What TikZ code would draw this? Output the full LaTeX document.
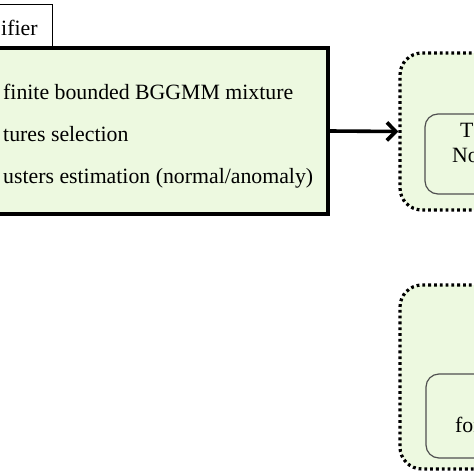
\documentclass[tikz,border=0pt]{standalone}
\usepackage{fontspec}
\setmainfont{Liberation Serif}
\usetikzlibrary{arrows.meta}
\definecolor{boxgreen}{RGB}{237,249,224}
\definecolor{innerline}{RGB}{80,80,80}
\begin{document}
\begin{tikzpicture}[x=1pt,y=-1pt,
  txt/.style={inner sep=0pt,anchor=base west,font=\fontsize{21.8}{26}\selectfont},
  titlebox/.style={draw=black,line width=1pt,fill=white,inner sep=0pt},
  mainbox/.style={draw=black,line width=3.5pt,fill=boxgreen,inner sep=0pt},
  dotbox/.style={draw=black,line width=3.2pt,dash pattern=on 2.8pt off 3pt,fill=boxgreen,rounded corners=22pt,inner sep=0pt},
  innerbox/.style={draw=innerline,line width=1.2pt,fill=boxgreen,rounded corners=13pt,inner sep=0pt},
  flow/.style={line width=3.6pt,-{Straight Barb[length=9pt,width=18pt,line width=3.6pt]}}]
\useasboundingbox (0,0) rectangle (474,474);
\fill[white] (0,0) rectangle (474,474);
% title tab
\node[titlebox,minimum width=72pt,minimum height=44pt] (title) at (16,26) {};
\node[txt] (titletext) at (1,35) {ifier};
% main box
\node[mainbox,minimum width=348pt,minimum height=166pt] (main) at (154,131) {};
\node[txt] (l1) at (3,99) {finite bounded BGGMM mixture};
\node[txt] (l2) at (3,141) {tures selection};
\node[txt] (l3) at (3,183) {usters estimation (normal/anomaly)};
% right dotted boxes
\node[dotbox,minimum width=140pt,minimum height=157pt] (dot1) at (470,131.5) {};
\node[innerbox,minimum width=120pt,minimum height=80pt] (in1) at (485,154) {};
\node[txt] (t1) at (460,137) {T};
\node[txt] (t2) at (452,162) {No};
\node[dotbox,minimum width=140pt,minimum height=184pt] (dot2) at (470,377) {};
\node[innerbox,minimum width=120pt,minimum height=84pt] (in2) at (486,416) {};
\node[txt] (t3) at (455,432) {for};
% arrow
\draw[flow] (main.east) -- (dot1.west);
\end{tikzpicture}
\end{document}
